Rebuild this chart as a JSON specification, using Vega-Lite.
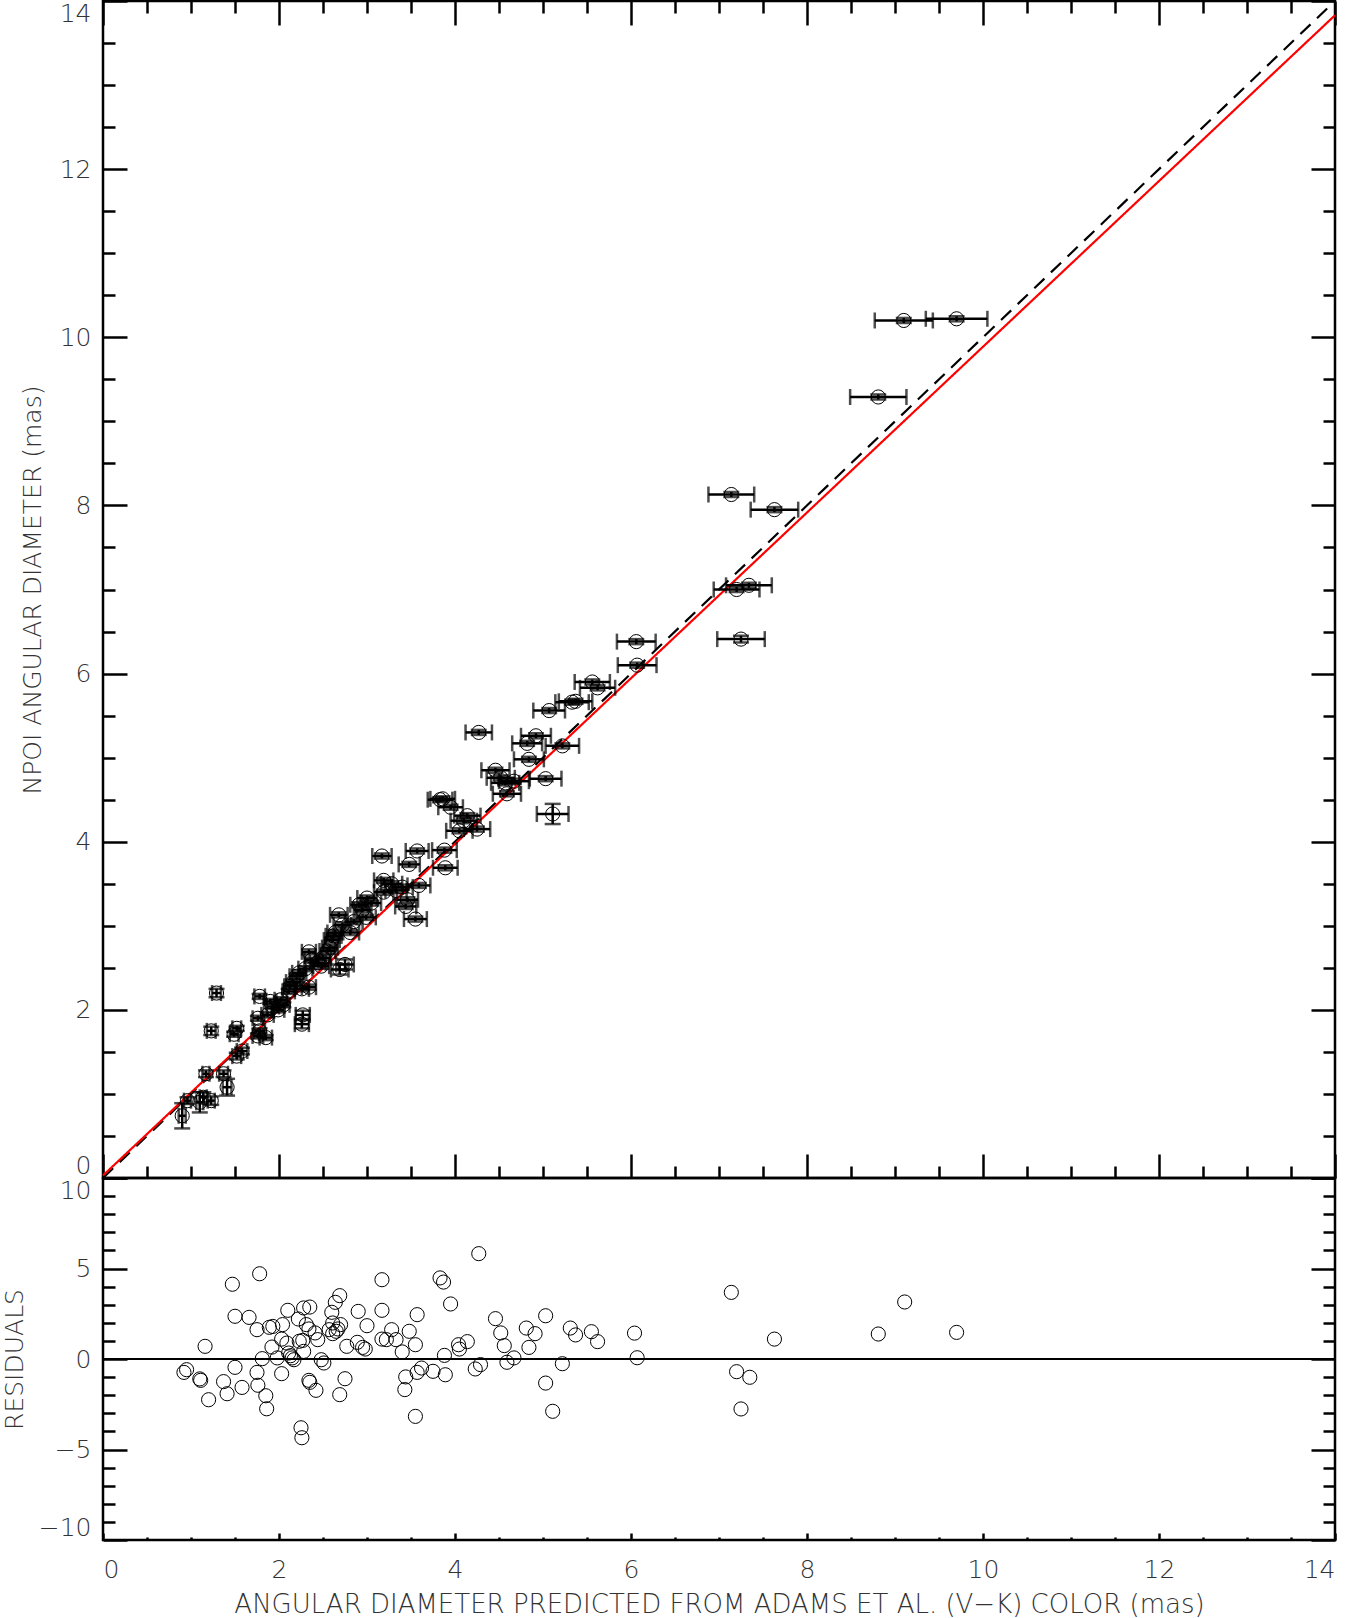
{
  "$schema": "https://vega.github.io/schema/vega-lite/v6.json",
  "background": "white",
  "padding": {"left": 0, "top": -5, "right": 0, "bottom": 0},
  "spacing": 0,
  "bounds": "flush",
  "config": {
    "view": {"stroke": "black", "strokeWidth": 2.5},
    "axis": {
      "domain": false,
      "grid": false,
      "labelFont": "DejaVu Sans",
      "labelFontSize": 25,
      "labelFontWeight": 200,
      "labelColor": "#333",
      "labelOverlap": false,
      "labelBound": false,
      "titleFont": "DejaVu Sans",
      "titleFontSize": 25,
      "titleFontWeight": 200,
      "titleColor": "#333",
      "tickColor": "black",
      "tickWidth": 2.5
    }
  },
  "datasets": {
    "lines": [
      {"x": 0, "y": 0, "line": "equal"},
      {"x": 14, "y": 14, "line": "equal"},
      {"x": 0, "y": 0.03, "line": "fit"},
      {"x": 14, "y": 13.83, "line": "fit"}
    ],
    "zero": [
      {"x": 0, "r": 0},
      {"x": 14, "r": 0}
    ],
    "stars": [
      {"pred": 9.10, "pred_err": 0.33, "npoi": 10.20, "npoi_err": 0.03},
      {"pred": 9.70, "pred_err": 0.35, "npoi": 10.22, "npoi_err": 0.03},
      {"pred": 8.81, "pred_err": 0.32, "npoi": 9.29, "npoi_err": 0.03},
      {"pred": 7.14, "pred_err": 0.26, "npoi": 8.13, "npoi_err": 0.03},
      {"pred": 7.63, "pred_err": 0.27, "npoi": 7.95, "npoi_err": 0.03},
      {"pred": 7.20, "pred_err": 0.26, "npoi": 7.00, "npoi_err": 0.03},
      {"pred": 7.34, "pred_err": 0.26, "npoi": 7.05, "npoi_err": 0.03},
      {"pred": 7.25, "pred_err": 0.27, "npoi": 6.41, "npoi_err": 0.04},
      {"pred": 6.06, "pred_err": 0.22, "npoi": 6.38, "npoi_err": 0.03},
      {"pred": 6.07, "pred_err": 0.22, "npoi": 6.10, "npoi_err": 0.03},
      {"pred": 5.56, "pred_err": 0.20, "npoi": 5.90, "npoi_err": 0.03},
      {"pred": 5.62, "pred_err": 0.20, "npoi": 5.83, "npoi_err": 0.03},
      {"pred": 5.33, "pred_err": 0.19, "npoi": 5.66, "npoi_err": 0.03},
      {"pred": 5.37, "pred_err": 0.19, "npoi": 5.67, "npoi_err": 0.03},
      {"pred": 5.07, "pred_err": 0.18, "npoi": 5.56, "npoi_err": 0.03},
      {"pred": 4.27, "pred_err": 0.15, "npoi": 5.30, "npoi_err": 0.03},
      {"pred": 5.22, "pred_err": 0.19, "npoi": 5.14, "npoi_err": 0.03},
      {"pred": 4.92, "pred_err": 0.17, "npoi": 5.26, "npoi_err": 0.03},
      {"pred": 4.82, "pred_err": 0.17, "npoi": 5.17, "npoi_err": 0.03},
      {"pred": 4.84, "pred_err": 0.17, "npoi": 4.98, "npoi_err": 0.03},
      {"pred": 5.03, "pred_err": 0.18, "npoi": 4.75, "npoi_err": 0.03},
      {"pred": 5.11, "pred_err": 0.18, "npoi": 4.33, "npoi_err": 0.12},
      {"pred": 4.46, "pred_err": 0.16, "npoi": 4.85, "npoi_err": 0.03},
      {"pred": 4.52, "pred_err": 0.16, "npoi": 4.76, "npoi_err": 0.03},
      {"pred": 4.57, "pred_err": 0.16, "npoi": 4.70, "npoi_err": 0.03},
      {"pred": 4.59, "pred_err": 0.16, "npoi": 4.57, "npoi_err": 0.03},
      {"pred": 4.67, "pred_err": 0.17, "npoi": 4.72, "npoi_err": 0.03},
      {"pred": 3.83, "pred_err": 0.14, "npoi": 4.50, "npoi_err": 0.03},
      {"pred": 3.86, "pred_err": 0.14, "npoi": 4.51, "npoi_err": 0.03},
      {"pred": 3.95, "pred_err": 0.14, "npoi": 4.41, "npoi_err": 0.03},
      {"pred": 4.14, "pred_err": 0.15, "npoi": 4.31, "npoi_err": 0.03},
      {"pred": 4.25, "pred_err": 0.15, "npoi": 4.15, "npoi_err": 0.03},
      {"pred": 4.05, "pred_err": 0.15, "npoi": 4.13, "npoi_err": 0.03},
      {"pred": 4.10, "pred_err": 0.15, "npoi": 4.25, "npoi_err": 0.03},
      {"pred": 3.17, "pred_err": 0.11, "npoi": 3.83, "npoi_err": 0.03},
      {"pred": 3.57, "pred_err": 0.13, "npoi": 3.89, "npoi_err": 0.03},
      {"pred": 3.88, "pred_err": 0.14, "npoi": 3.90, "npoi_err": 0.03},
      {"pred": 3.89, "pred_err": 0.14, "npoi": 3.69, "npoi_err": 0.03},
      {"pred": 3.48, "pred_err": 0.12, "npoi": 3.73, "npoi_err": 0.03},
      {"pred": 3.59, "pred_err": 0.13, "npoi": 3.48, "npoi_err": 0.03},
      {"pred": 3.19, "pred_err": 0.11, "npoi": 3.54, "npoi_err": 0.03},
      {"pred": 3.28, "pred_err": 0.12, "npoi": 3.50, "npoi_err": 0.03},
      {"pred": 3.40, "pred_err": 0.12, "npoi": 3.46, "npoi_err": 0.03},
      {"pred": 3.46, "pred_err": 0.12, "npoi": 3.31, "npoi_err": 0.03},
      {"pred": 3.44, "pred_err": 0.12, "npoi": 3.23, "npoi_err": 0.03},
      {"pred": 3.55, "pred_err": 0.13, "npoi": 3.08, "npoi_err": 0.03},
      {"pred": 3.19, "pred_err": 0.11, "npoi": 3.40, "npoi_err": 0.03},
      {"pred": 3.33, "pred_err": 0.12, "npoi": 3.42, "npoi_err": 0.03},
      {"pred": 3.00, "pred_err": 0.11, "npoi": 3.33, "npoi_err": 0.03},
      {"pred": 2.91, "pred_err": 0.10, "npoi": 3.25, "npoi_err": 0.03},
      {"pred": 2.99, "pred_err": 0.11, "npoi": 3.10, "npoi_err": 0.03},
      {"pred": 3.05, "pred_err": 0.11, "npoi": 3.27, "npoi_err": 0.03},
      {"pred": 2.95, "pred_err": 0.10, "npoi": 3.19, "npoi_err": 0.03},
      {"pred": 2.68, "pred_err": 0.10, "npoi": 3.13, "npoi_err": 0.03},
      {"pred": 2.72, "pred_err": 0.10, "npoi": 3.01, "npoi_err": 0.03},
      {"pred": 2.85, "pred_err": 0.10, "npoi": 3.05, "npoi_err": 0.03},
      {"pred": 2.64, "pred_err": 0.09, "npoi": 2.92, "npoi_err": 0.03},
      {"pred": 2.60, "pred_err": 0.09, "npoi": 2.83, "npoi_err": 0.03},
      {"pred": 2.81, "pred_err": 0.10, "npoi": 2.92, "npoi_err": 0.03},
      {"pred": 2.62, "pred_err": 0.09, "npoi": 2.88, "npoi_err": 0.03},
      {"pred": 2.75, "pred_err": 0.10, "npoi": 2.54, "npoi_err": 0.06},
      {"pred": 2.69, "pred_err": 0.10, "npoi": 2.48, "npoi_err": 0.06},
      {"pred": 2.58, "pred_err": 0.09, "npoi": 2.74, "npoi_err": 0.03},
      {"pred": 2.55, "pred_err": 0.09, "npoi": 2.70, "npoi_err": 0.03},
      {"pred": 2.50, "pred_err": 0.09, "npoi": 2.62, "npoi_err": 0.03},
      {"pred": 2.48, "pred_err": 0.09, "npoi": 2.52, "npoi_err": 0.03},
      {"pred": 2.44, "pred_err": 0.09, "npoi": 2.56, "npoi_err": 0.03},
      {"pred": 2.34, "pred_err": 0.08, "npoi": 2.69, "npoi_err": 0.03},
      {"pred": 2.37, "pred_err": 0.08, "npoi": 2.59, "npoi_err": 0.03},
      {"pred": 2.30, "pred_err": 0.08, "npoi": 2.49, "npoi_err": 0.03},
      {"pred": 2.23, "pred_err": 0.08, "npoi": 2.44, "npoi_err": 0.03},
      {"pred": 2.20, "pred_err": 0.08, "npoi": 2.40, "npoi_err": 0.03},
      {"pred": 2.34, "pred_err": 0.08, "npoi": 2.27, "npoi_err": 0.03},
      {"pred": 2.26, "pred_err": 0.08, "npoi": 2.25, "npoi_err": 0.03},
      {"pred": 2.16, "pred_err": 0.08, "npoi": 2.33, "npoi_err": 0.03},
      {"pred": 2.13, "pred_err": 0.07, "npoi": 2.28, "npoi_err": 0.03},
      {"pred": 2.11, "pred_err": 0.07, "npoi": 2.22, "npoi_err": 0.03},
      {"pred": 2.05, "pred_err": 0.07, "npoi": 2.06, "npoi_err": 0.03},
      {"pred": 2.02, "pred_err": 0.07, "npoi": 2.12, "npoi_err": 0.03},
      {"pred": 1.99, "pred_err": 0.07, "npoi": 2.00, "npoi_err": 0.03},
      {"pred": 1.93, "pred_err": 0.07, "npoi": 2.04, "npoi_err": 0.03},
      {"pred": 1.90, "pred_err": 0.07, "npoi": 2.10, "npoi_err": 0.03},
      {"pred": 1.87, "pred_err": 0.07, "npoi": 1.94, "npoi_err": 0.03},
      {"pred": 2.27, "pred_err": 0.08, "npoi": 1.94, "npoi_err": 0.05},
      {"pred": 2.26, "pred_err": 0.08, "npoi": 1.83, "npoi_err": 0.05},
      {"pred": 1.76, "pred_err": 0.06, "npoi": 1.90, "npoi_err": 0.03},
      {"pred": 1.78, "pred_err": 0.06, "npoi": 2.16, "npoi_err": 0.03},
      {"pred": 1.29, "pred_err": 0.05, "npoi": 2.20, "npoi_err": 0.05},
      {"pred": 1.78, "pred_err": 0.06, "npoi": 1.75, "npoi_err": 0.03},
      {"pred": 1.85, "pred_err": 0.07, "npoi": 1.67, "npoi_err": 0.03},
      {"pred": 1.76, "pred_err": 0.06, "npoi": 1.69, "npoi_err": 0.03},
      {"pred": 1.23, "pred_err": 0.05, "npoi": 1.75, "npoi_err": 0.05},
      {"pred": 1.52, "pred_err": 0.05, "npoi": 1.78, "npoi_err": 0.03},
      {"pred": 1.49, "pred_err": 0.05, "npoi": 1.71, "npoi_err": 0.03},
      {"pred": 1.58, "pred_err": 0.06, "npoi": 1.51, "npoi_err": 0.04},
      {"pred": 1.52, "pred_err": 0.05, "npoi": 1.45, "npoi_err": 0.04},
      {"pred": 1.17, "pred_err": 0.04, "npoi": 1.24, "npoi_err": 0.04},
      {"pred": 1.37, "pred_err": 0.05, "npoi": 1.24, "npoi_err": 0.04},
      {"pred": 1.41, "pred_err": 0.05, "npoi": 1.08, "npoi_err": 0.10},
      {"pred": 1.14, "pred_err": 0.04, "npoi": 0.96, "npoi_err": 0.06},
      {"pred": 1.23, "pred_err": 0.04, "npoi": 0.92, "npoi_err": 0.05},
      {"pred": 0.96, "pred_err": 0.04, "npoi": 0.92, "npoi_err": 0.04},
      {"pred": 0.90, "pred_err": 0.04, "npoi": 0.74, "npoi_err": 0.15},
      {"pred": 1.10, "pred_err": 0.04, "npoi": 0.90, "npoi_err": 0.12}
    ],
    "resid": [
      {"pred": 0.92, "r": -0.74}, {"pred": 0.95, "r": -0.59}, {"pred": 1.10, "r": -1.10},
      {"pred": 1.11, "r": -1.18}, {"pred": 1.16, "r": 0.70}, {"pred": 1.20, "r": -2.25},
      {"pred": 1.37, "r": -1.25}, {"pred": 1.41, "r": -1.92}, {"pred": 1.47, "r": 4.13},
      {"pred": 1.50, "r": 2.36}, {"pred": 1.50, "r": -0.46}, {"pred": 1.58, "r": -1.57},
      {"pred": 1.66, "r": 2.30}, {"pred": 1.75, "r": 1.62}, {"pred": 1.75, "r": -0.74},
      {"pred": 1.76, "r": -1.45}, {"pred": 1.78, "r": 4.71}, {"pred": 1.81, "r": 0.02},
      {"pred": 1.85, "r": -2.03}, {"pred": 1.86, "r": -2.75}, {"pred": 1.89, "r": 1.75},
      {"pred": 1.92, "r": 0.66}, {"pred": 1.93, "r": 1.80}, {"pred": 1.98, "r": 0.06},
      {"pred": 2.03, "r": -0.81}, {"pred": 2.04, "r": 1.90}, {"pred": 2.03, "r": 1.10},
      {"pred": 2.10, "r": 2.69}, {"pred": 2.09, "r": 0.88}, {"pred": 2.11, "r": 0.33},
      {"pred": 2.13, "r": 0.18}, {"pred": 2.15, "r": 0.06}, {"pred": 2.17, "r": -0.04},
      {"pred": 2.22, "r": 2.21}, {"pred": 2.23, "r": 0.98}, {"pred": 2.27, "r": 1.03},
      {"pred": 2.28, "r": 2.82}, {"pred": 2.28, "r": 0.42}, {"pred": 2.31, "r": 1.90},
      {"pred": 2.35, "r": 2.87}, {"pred": 2.34, "r": 1.66}, {"pred": 2.34, "r": -1.18},
      {"pred": 2.35, "r": -1.29}, {"pred": 2.42, "r": -1.73}, {"pred": 2.44, "r": 1.07},
      {"pred": 2.41, "r": 1.44}, {"pred": 2.48, "r": -0.04}, {"pred": 2.51, "r": -0.22},
      {"pred": 2.57, "r": 1.62}, {"pred": 2.60, "r": 2.58}, {"pred": 2.61, "r": 1.99},
      {"pred": 2.61, "r": 1.40}, {"pred": 2.64, "r": 3.13}, {"pred": 2.65, "r": 1.53},
      {"pred": 2.67, "r": 1.66}, {"pred": 2.69, "r": 3.50}, {"pred": 2.75, "r": -1.09},
      {"pred": 2.69, "r": -1.97}, {"pred": 2.70, "r": 1.90}, {"pred": 2.77, "r": 0.70},
      {"pred": 2.90, "r": 2.63}, {"pred": 2.89, "r": 0.92}, {"pred": 2.95, "r": 0.64},
      {"pred": 2.98, "r": 0.55}, {"pred": 3.00, "r": 1.84}, {"pred": 3.17, "r": 4.38},
      {"pred": 3.17, "r": 2.69}, {"pred": 3.17, "r": 1.10}, {"pred": 3.22, "r": 1.07},
      {"pred": 3.28, "r": 1.62}, {"pred": 3.33, "r": 1.07}, {"pred": 3.40, "r": 0.39},
      {"pred": 3.44, "r": -0.99}, {"pred": 3.43, "r": -1.69}, {"pred": 3.48, "r": 1.53},
      {"pred": 3.55, "r": 0.79}, {"pred": 3.57, "r": 2.45}, {"pred": 3.57, "r": -0.74},
      {"pred": 3.62, "r": -0.50}, {"pred": 3.75, "r": -0.68}, {"pred": 3.83, "r": 4.48},
      {"pred": 3.87, "r": 4.25}, {"pred": 3.88, "r": 0.20}, {"pred": 3.89, "r": -0.87},
      {"pred": 3.95, "r": 3.04}, {"pred": 4.04, "r": 0.79}, {"pred": 4.05, "r": 0.55},
      {"pred": 4.14, "r": 0.96}, {"pred": 4.23, "r": -0.55}, {"pred": 4.29, "r": -0.31},
      {"pred": 4.27, "r": 5.82}, {"pred": 4.46, "r": 2.23}, {"pred": 4.52, "r": 1.44},
      {"pred": 4.56, "r": 0.74}, {"pred": 4.59, "r": -0.18}, {"pred": 4.67, "r": 0.06},
      {"pred": 4.81, "r": 1.71}, {"pred": 4.84, "r": 0.64}, {"pred": 4.91, "r": 1.40},
      {"pred": 5.03, "r": 2.39}, {"pred": 5.03, "r": -1.33}, {"pred": 5.11, "r": -2.89},
      {"pred": 5.22, "r": -0.26}, {"pred": 5.31, "r": 1.71}, {"pred": 5.37, "r": 1.33},
      {"pred": 5.55, "r": 1.51}, {"pred": 5.62, "r": 0.96}, {"pred": 6.04, "r": 1.43},
      {"pred": 6.07, "r": 0.07}, {"pred": 7.14, "r": 3.68}, {"pred": 7.20, "r": -0.70},
      {"pred": 7.35, "r": -1.01}, {"pred": 7.25, "r": -2.76}, {"pred": 7.63, "r": 1.10},
      {"pred": 8.81, "r": 1.38}, {"pred": 9.11, "r": 3.15}, {"pred": 9.70, "r": 1.47},
      {"pred": 2.25, "r": -3.80}, {"pred": 2.26, "r": -4.35}, {"pred": 3.55, "r": -3.17}
    ]
  },
  "vconcat": [
    {
      "width": 1232,
      "height": 1177,
      "resolve": {"axis": {"x": "independent", "y": "independent"}},
      "layer": [
        {
          "data": {"name": "lines"},
          "mark": {"type": "line", "strokeWidth": 2.2},
          "encoding": {
            "x": {
              "field": "x", "type": "quantitative",
              "scale": {"domain": [0, 14], "nice": false, "zero": false},
              "axis": {
                "orient": "bottom", "labels": false, "title": null,
                "values": [0,0.5,1,1.5,2,2.5,3,3.5,4,4.5,5,5.5,6,6.5,7,7.5,8,8.5,9,9.5,10,10.5,11,11.5,12,12.5,13,13.5,14],
                "tickSize": {"condition": {"test": "datum.value % 2 === 0", "value": -24}, "value": -12}
              }
            },
            "y": {
              "field": "y", "type": "quantitative",
              "scale": {"domain": [0, 14], "nice": false, "zero": false},
              "axis": {
                "orient": "left",
                "title": "NPOI ANGULAR DIAMETER (mas)",
                "titlePadding": 14,
                "labelPadding": 36,
                "labelFlush": true,
                "format": ".0f",
                "labelExpr": "datum.value % 2 === 0 ? datum.label : ''",
                "values": [0,0.5,1,1.5,2,2.5,3,3.5,4,4.5,5,5.5,6,6.5,7,7.5,8,8.5,9,9.5,10,10.5,11,11.5,12,12.5,13,13.5,14],
                "tickSize": {"condition": {"test": "datum.value % 2 === 0", "value": -24}, "value": -12}
              }
            },
            "color": {
              "field": "line", "type": "nominal",
              "scale": {"domain": ["equal", "fit"], "range": ["black", "#ff0000"]},
              "legend": null
            },
            "strokeDash": {
              "field": "line", "type": "nominal",
              "scale": {"domain": ["equal", "fit"], "range": [[14, 9], [1, 0]]},
              "legend": null
            }
          }
        },
        {
          "data": {"name": "stars"},
          "mark": {"type": "errorbar", "ticks": true, "size": 16, "thickness": 2.5, "color": "black"},
          "encoding": {
            "x": {
              "field": "pred", "type": "quantitative",
              "scale": {"domain": [0, 14], "nice": false, "zero": false},
              "axis": {
                "orient": "top", "labels": false, "title": null,
                "values": [0,0.5,1,1.5,2,2.5,3,3.5,4,4.5,5,5.5,6,6.5,7,7.5,8,8.5,9,9.5,10,10.5,11,11.5,12,12.5,13,13.5,14],
                "tickSize": {"condition": {"test": "datum.value % 2 === 0", "value": -24}, "value": -12}
              }
            },
            "xError": {"field": "pred_err"},
            "y": {
              "field": "npoi", "type": "quantitative",
              "scale": {"domain": [0, 14], "nice": false, "zero": false},
              "axis": {
                "orient": "right", "labels": false, "title": null,
                "values": [0,0.5,1,1.5,2,2.5,3,3.5,4,4.5,5,5.5,6,6.5,7,7.5,8,8.5,9,9.5,10,10.5,11,11.5,12,12.5,13,13.5,14],
                "tickSize": {"condition": {"test": "datum.value % 2 === 0", "value": -24}, "value": -12}
              }
            }
          }
        },
        {
          "data": {"name": "stars"},
          "mark": {"type": "errorbar", "ticks": true, "size": 16, "thickness": 2.5, "color": "black"},
          "encoding": {
            "x": {"field": "pred", "type": "quantitative", "scale": {"domain": [0, 14], "nice": false, "zero": false}, "axis": null},
            "y": {"field": "npoi", "type": "quantitative", "scale": {"domain": [0, 14], "nice": false, "zero": false}, "axis": null},
            "yError": {"field": "npoi_err"}
          }
        },
        {
          "data": {"name": "stars"},
          "mark": {"type": "point", "shape": "circle", "filled": false, "size": 200, "stroke": "black", "strokeWidth": 1, "opacity": 1},
          "encoding": {
            "x": {"field": "pred", "type": "quantitative", "scale": {"domain": [0, 14], "nice": false, "zero": false}, "axis": null},
            "y": {"field": "npoi", "type": "quantitative", "scale": {"domain": [0, 14], "nice": false, "zero": false}, "axis": null}
          }
        }
      ]
    },
    {
      "width": 1232,
      "height": 362,
      "resolve": {"axis": {"x": "independent", "y": "independent"}},
      "layer": [
        {
          "data": {"name": "resid"},
          "mark": {"type": "point", "shape": "circle", "filled": false, "size": 200, "stroke": "black", "strokeWidth": 1, "opacity": 1},
          "encoding": {
            "x": {
              "field": "pred", "type": "quantitative",
              "scale": {"domain": [0, 14], "nice": false, "zero": false},
              "axis": {
                "orient": "bottom",
                "title": "ANGULAR DIAMETER PREDICTED FROM ADAMS ET AL. (V−K) COLOR (mas)",
                "titleFontSize": 26,
                "titlePadding": 5,
                "labelPadding": 24,
                "format": ".0f",
                "labelExpr": "datum.value % 2 === 0 ? datum.label : ''",
                "values": [0,0.5,1,1.5,2,2.5,3,3.5,4,4.5,5,5.5,6,6.5,7,7.5,8,8.5,9,9.5,10,10.5,11,11.5,12,12.5,13,13.5,14],
                "tickSize": {"condition": {"test": "datum.value % 2 === 0", "value": -7}, "value": -3}
              }
            },
            "y": {
              "field": "r", "type": "quantitative",
              "scale": {"domain": [-10, 10], "nice": false, "zero": false},
              "axis": {
                "orient": "left",
                "title": "RESIDUALS",
                "titlePadding": 11,
                "labelPadding": 36,
                "labelFlush": true,
                "format": ".0f",
                "labelExpr": "datum.value % 5 === 0 ? datum.label : ''",
                "values": [-10,-9,-8,-7,-6,-5,-4,-3,-2,-1,0,1,2,3,4,5,6,7,8,9,10],
                "tickSize": {"condition": {"test": "datum.value % 5 === 0", "value": -24}, "value": -12}
              }
            }
          }
        },
        {
          "data": {"name": "zero"},
          "mark": {"type": "line", "strokeWidth": 2, "color": "black"},
          "encoding": {
            "x": {"field": "x", "type": "quantitative", "scale": {"domain": [0, 14], "nice": false, "zero": false}, "axis": null},
            "y": {
              "field": "r", "type": "quantitative",
              "scale": {"domain": [-10, 10], "nice": false, "zero": false},
              "axis": {
                "orient": "right", "labels": false, "title": null,
                "values": [-10,-9,-8,-7,-6,-5,-4,-3,-2,-1,0,1,2,3,4,5,6,7,8,9,10],
                "tickSize": {"condition": {"test": "datum.value % 5 === 0", "value": -24}, "value": -12}
              }
            }
          }
        }
      ]
    }
  ]
}
